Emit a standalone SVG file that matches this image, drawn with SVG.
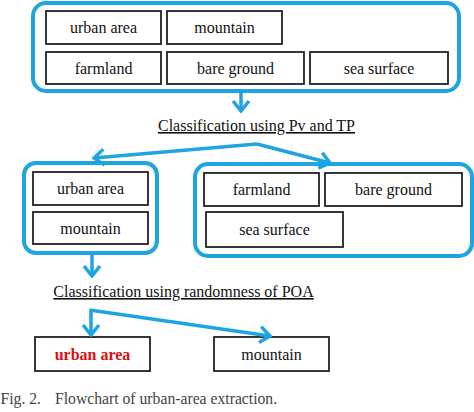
<svg xmlns="http://www.w3.org/2000/svg" width="474" height="412" viewBox="0 0 474 412">
<style>
.bg{fill:#ffffff}
.cont{fill:none;stroke:#1ea4e0;stroke-width:4}
.box{fill:#ffffff;stroke:#222222;stroke-width:1.8}
.lbl{font-family:"Liberation Serif","Times New Roman",serif;font-size:16px;fill:#111111;text-anchor:middle}
.red{fill:#e01010;font-weight:bold}
.head{font-family:"Liberation Serif","Times New Roman",serif;font-size:16px;fill:#111111;text-anchor:middle;text-decoration:underline}
.cap{font-family:"Liberation Serif","Times New Roman",serif;font-size:15.7px;fill:#444444}
.conn{fill:none;stroke:#1ea4e0;stroke-width:3.5}
</style>
<defs>
<marker id="chev" viewBox="-12 -10 14 20" markerWidth="14" markerHeight="20" refX="0" refY="0" orient="auto" markerUnits="userSpaceOnUse">
<path d="M-10,-8 L0,0 L-10,8" fill="none" stroke="#1ea4e0" stroke-width="3.5" stroke-linejoin="miter"/>
</marker>
</defs>
<rect class="bg" x="0" y="0" width="474" height="412"/>

<g id="group-all">
<rect class="cont" x="33" y="3" width="426" height="88" rx="13"/>
</g>
<g id="n-urban1"><rect class="box" x="46" y="11" width="115" height="33"/><text class="lbl" x="103.5" y="33">urban area</text></g>
<g id="n-mountain1"><rect class="box" x="167" y="11" width="115" height="33"/><text class="lbl" x="224.5" y="33">mountain</text></g>
<g id="n-farmland1"><rect class="box" x="46" y="52" width="115" height="32"/><text class="lbl" x="103.5" y="74">farmland</text></g>
<g id="n-bare1"><rect class="box" x="167" y="52" width="137" height="32"/><text class="lbl" x="235.5" y="74">bare ground</text></g>
<g id="n-sea1"><rect class="box" x="310" y="52" width="138" height="32"/><text class="lbl" x="379" y="74">sea surface</text></g>

<g id="step1"><text class="head" x="256.5" y="131">Classification using Pv and TP</text></g>

<g id="group-left"><rect class="cont" x="24" y="163" width="133" height="90" rx="12"/></g>
<g id="n-urban2"><rect class="box" x="33" y="172" width="115" height="33"/><text class="lbl" x="90.5" y="194">urban area</text></g>
<g id="n-mountain2"><rect class="box" x="33" y="212" width="115" height="32"/><text class="lbl" x="90.5" y="234">mountain</text></g>

<g id="group-right"><rect class="cont" x="195" y="164" width="277" height="92" rx="13"/></g>
<g id="n-farmland2"><rect class="box" x="204" y="173" width="115" height="33"/><text class="lbl" x="261.5" y="195">farmland</text></g>
<g id="n-bare2"><rect class="box" x="325" y="173" width="137" height="33"/><text class="lbl" x="393.5" y="195">bare ground</text></g>
<g id="n-sea2"><rect class="box" x="206" y="212" width="137" height="35"/><text class="lbl" x="274.5" y="235">sea surface</text></g>

<g id="step2"><text class="head" x="183.5" y="297">Classification using randomness of POA</text></g>

<g id="n-urban3"><rect class="box" x="35" y="337" width="115" height="34"/><text class="lbl red" x="92.5" y="360">urban area</text></g>
<g id="n-mountain3"><rect class="box" x="214" y="337" width="115" height="34"/><text class="lbl" x="271.5" y="360">mountain</text></g>

<g id="caption">
<text class="cap" x="0.5" y="404">Fig. 2.</text>
<text class="cap" x="55" y="404">Flowchart of urban-area extraction.</text>
</g>

<g id="connectors">
<path class="conn" d="M241,91 L241,111" marker-end="url(#chev)"/>
<path class="conn" d="M257,144 L94,158" marker-end="url(#chev)"/>
<path class="conn" d="M257,144 L330,163" marker-end="url(#chev)"/>
<path class="conn" d="M92,253 L92,276" marker-end="url(#chev)"/>
<path class="conn" d="M91,310 L91,335" marker-end="url(#chev)"/>
<path class="conn" d="M89.5,310 L270,336" marker-end="url(#chev)"/>
</g>
</svg>
